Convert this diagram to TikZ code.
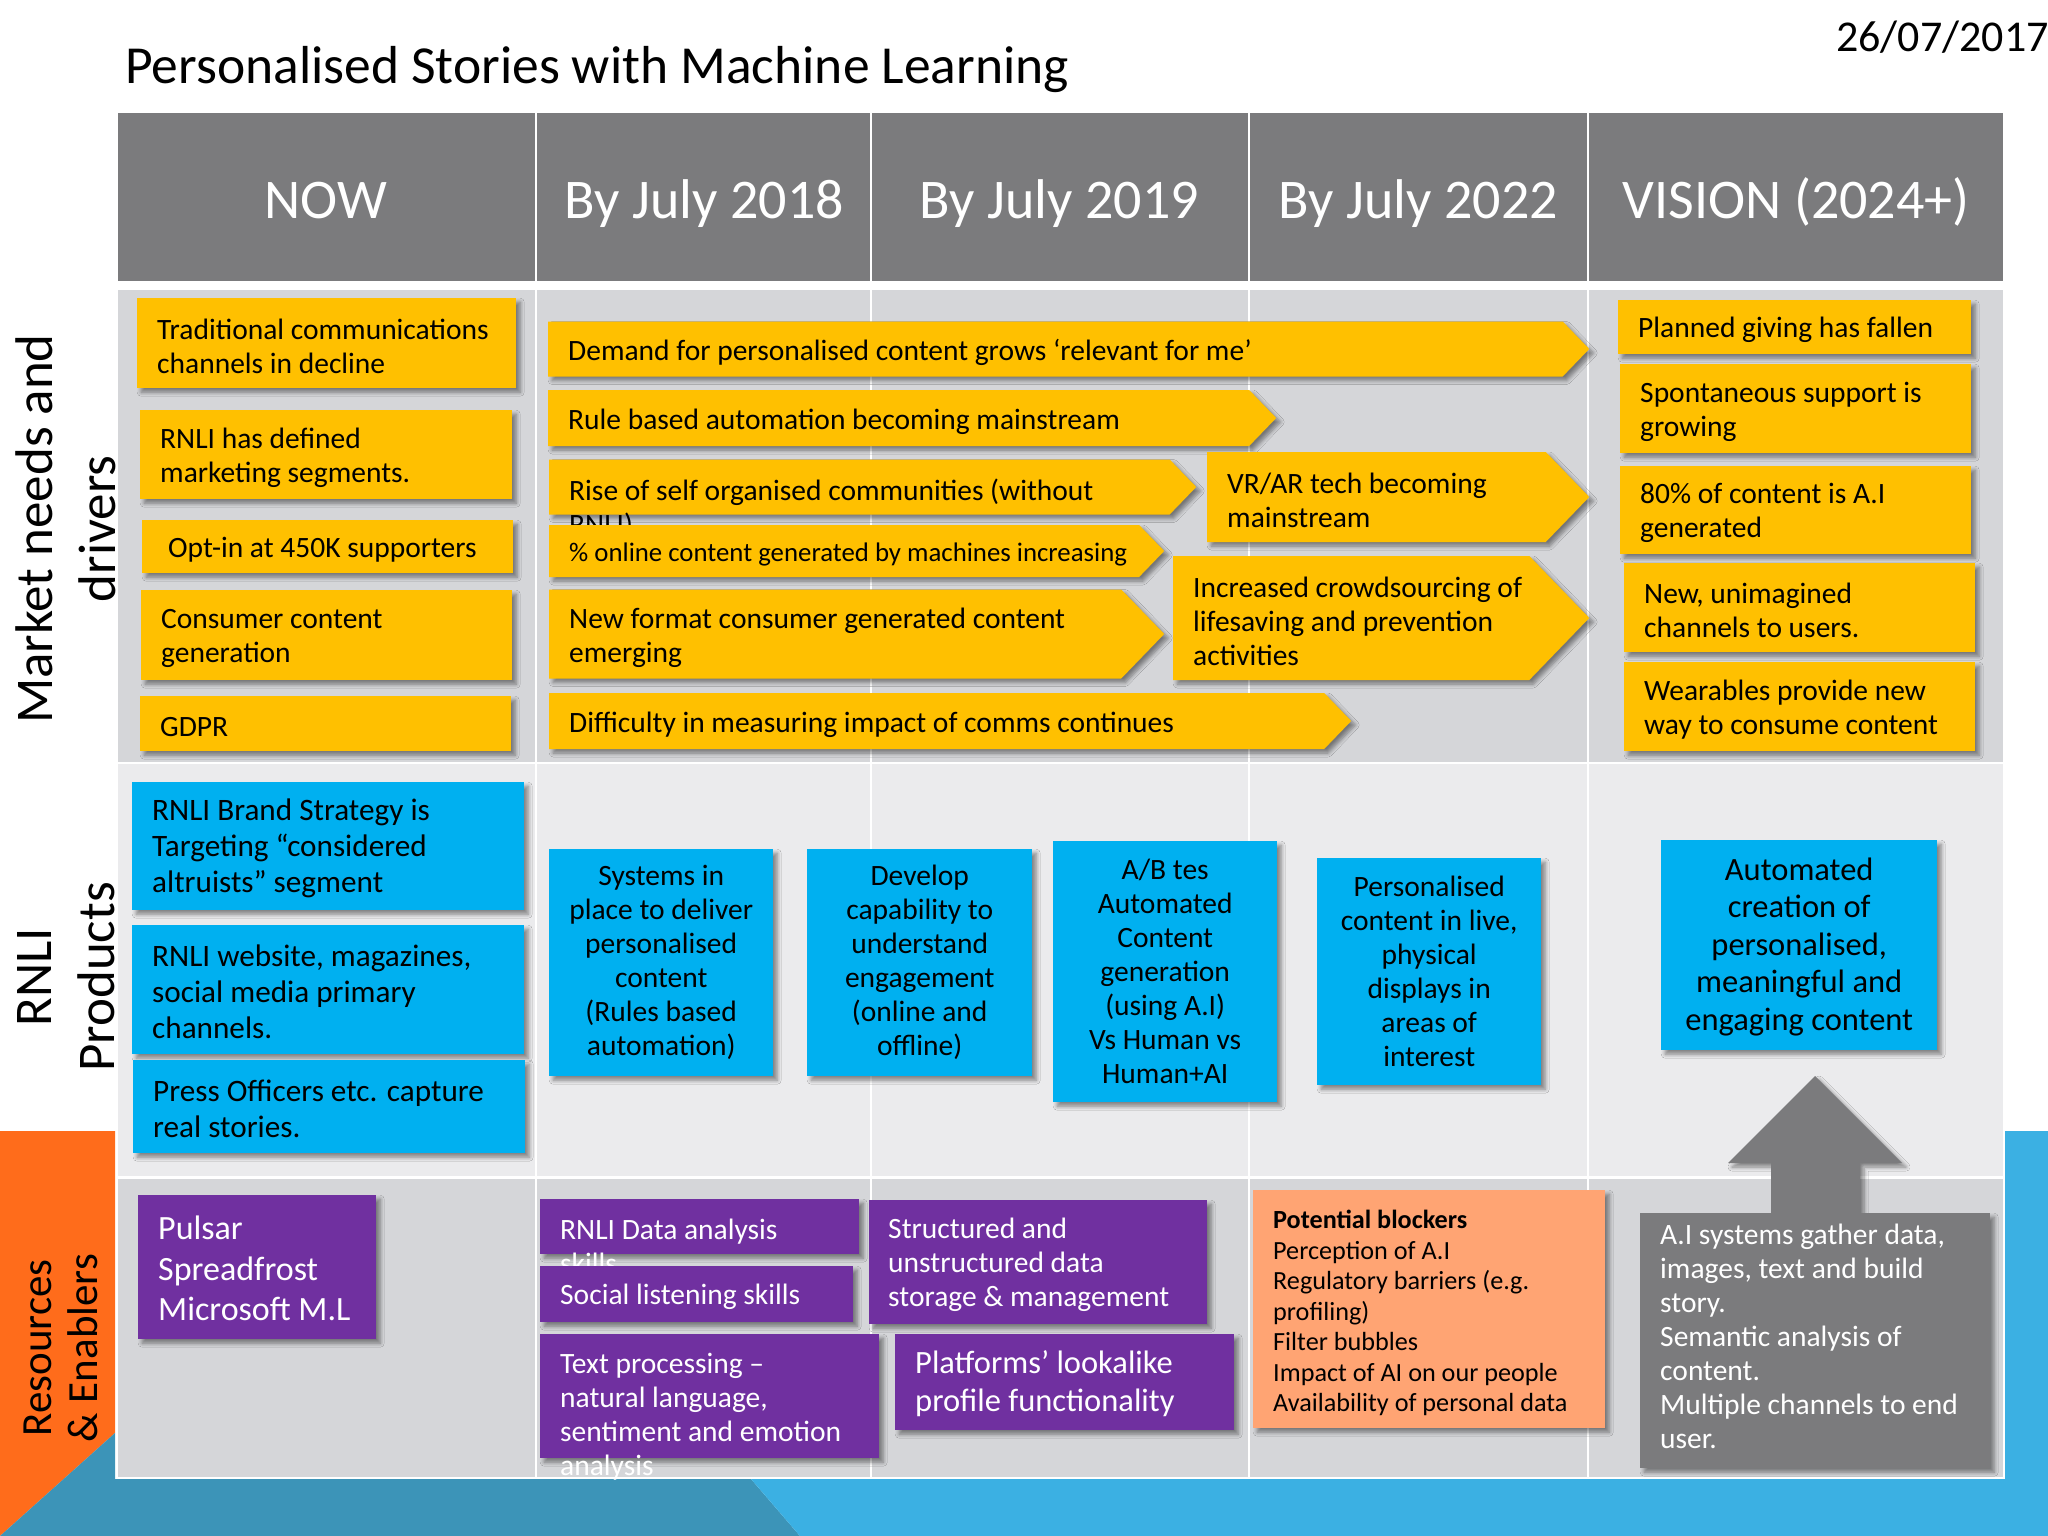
\documentclass[tikz,border=0pt]{standalone}
\usepackage{fontspec}
\setmainfont{Carlito}
\usetikzlibrary{shapes.symbols,shadows.blur}
\definecolor{hdrgrey}{HTML}{7B7B7D}
\definecolor{rowdark}{HTML}{D5D6D9}
\definecolor{rowlight}{HTML}{EBEBED}
\definecolor{ygold}{HTML}{FFC000}
\definecolor{bsky}{HTML}{00B0F0}
\definecolor{pviolet}{HTML}{7030A0}
\definecolor{opeach}{HTML}{FFA473}
\definecolor{bgorange}{HTML}{FF6C1B}
\definecolor{bgteal}{HTML}{3C94B8}
\definecolor{bgblue}{HTML}{3BB0E3}
\tikzset{
  boxshadow/.style={blur shadow={shadow xshift=4pt,shadow yshift=-4pt,shadow blur radius=4pt,shadow blur steps=6,shadow opacity=45}},
  txt/.style={font=\fontsize{29.5}{34}\selectfont,align=flush left,inner sep=0pt},
  midtxt/.style={font=\fontsize{31.2}{36}\selectfont},
  bigtxt/.style={font=\fontsize{32.5}{37.5}\selectfont},
  lowered/.style={execute at begin node={\rule{0pt}{26pt}}},
  block/.style={boxshadow,txt,anchor=north west,inner xsep=20pt,inner ysep=0pt},
  yrect/.style={block,lowered,fill=ygold},
  brect/.style={block,lowered,fill=bsky},
  bcent/.style={block,fill=bsky,align=flush center},
  prect/.style={block,lowered,fill=pviolet,text=white},
  yarrow/.style={boxshadow,fill=ygold,signal,signal to=east,signal pointer angle=92,inner sep=0pt,anchor=west},
  arrowtxt/.style={txt,anchor=west,yshift=-3.5pt},
  hdr/.style={font=\fontsize{56}{60}\selectfont,text=white,inner sep=0pt,anchor=base},
  rowlab/.style={rotate=90,align=center,inner sep=0pt}
}
\begin{document}
\begin{tikzpicture}[x=1pt,y=-1pt]
\useasboundingbox (0,0) rectangle (2048,1536);
% page background
\fill[bgorange] (0,1131) -- (115,1131) -- (115,1433) -- (0,1536) -- cycle;
\fill[bgteal] (115,1433) -- (115,1479) -- (751,1479) -- (800,1536) -- (0,1536) -- cycle;
\fill[bgblue] (751,1479) -- (2005,1479) -- (2005,1131) -- (2048,1131) -- (2048,1536) -- (800,1536) -- cycle;

\node[font=\fontsize{53.5}{60}\selectfont,anchor=base west,inner sep=0pt] (title) at (125,84) {Personalised Stories with Machine Learning};
\node[font=\fontsize{44}{50}\selectfont,anchor=base west,inner sep=0pt] (date) at (1836,52) {26/07/2017};

% table
\fill[white] (116,110) rectangle (2005,1479);
\fill[hdrgrey] (118,113) rectangle (2003,281);
\fill[rowdark] (118,290) rectangle (2003,762);
\fill[rowlight] (118,764) rectangle (2003,1176);
\fill[rowdark] (118,1179) rectangle (2003,1477);
\foreach \x in {536,871,1249,1588}
  \draw[white,line width=2.5pt] (\x,113) -- (\x,1477);

\node[hdr] (now) at (326,218) {NOW};
\node[hdr] (y18) at (704,218) {By July 2018};
\node[hdr] (y19) at (1059,218) {By July 2019};
\node[hdr] (y22) at (1418,218) {By July 2022};
\node[hdr] (vis) at (1796,218) {VISION (2024+)};

% row labels
\node[rowlab,font=\fontsize{53}{63}\selectfont] (needs) at (66,529) {Market needs and\\drivers};
\node[rowlab,font=\fontsize{53}{63}\selectfont] (prods) at (66,977) {RNLI\\Products};
\node[rowlab,font=\fontsize{43}{46}\selectfont] (res) at (61,1348) {Resources\\\& Enablers};

% market needs, left column
\node[yrect,minimum width=379,minimum height=90,text width=339] (trad) at (137,298) {Traditional communications\\channels in decline};
\node[yrect,minimum width=372,minimum height=89,text width=332] (seg) at (140,410) {RNLI has defined\\marketing segments.};
\node[yrect,minimum width=371,minimum height=53,inner xsep=26pt,text width=319] (optin) at (142,520) {Opt-in at 450K supporters};
\node[yrect,minimum width=371,minimum height=90,text width=331] (cons) at (141,590) {Consumer content\\generation};
\node[yrect,minimum width=371,minimum height=55,text width=331] (gdpr) at (140,696) {GDPR};

% market needs, arrows
\node[yarrow,minimum width=1041,minimum height=55] (demand) at (548,349) {};
\node[arrowtxt] (demandt) at ([xshift=20pt]demand.west) {Demand for personalised content grows ‘relevant for me’};
\node[yarrow,minimum width=728,minimum height=56] (rule) at (548,418) {};
\node[arrowtxt] (rulet) at ([xshift=20pt]rule.west) {Rule based automation becoming mainstream};
\node[yarrow,minimum width=647,minimum height=55] (rise) at (549,487) {};
\node[txt,anchor=north west] (riset) at ([xshift=20pt,yshift=-19pt]rise.north west) {Rise of self organised communities (without\\RNLI)};
\node[yarrow,minimum width=615,minimum height=52] (online) at (549,551) {};
\node[arrowtxt,font=\fontsize{26.8}{30}\selectfont] (onlinet) at ([xshift=20pt]online.west) {\% online content generated by machines increasing};
\node[yarrow,minimum width=615,minimum height=89] (newf) at (549,634) {};
\node[arrowtxt] (newft) at ([xshift=20pt]newf.west) {New format consumer generated content\\emerging};
\node[yarrow,minimum width=802,minimum height=56] (diff) at (549,721) {};
\node[arrowtxt] (difft) at ([xshift=20pt]diff.west) {Difficulty in measuring impact of comms continues};
\node[yarrow,minimum width=382,minimum height=90] (vr) at (1207,497) {};
\node[arrowtxt] (vrt) at ([xshift=20pt]vr.west) {VR/AR tech becoming\\mainstream};
\node[yarrow,minimum width=416,minimum height=124] (crowd) at (1173,618) {};
\node[arrowtxt] (crowdt) at ([xshift=20pt]crowd.west) {Increased crowdsourcing of\\lifesaving and prevention\\activities};

% market needs, right column
\node[yrect,minimum width=353,minimum height=54,text width=313] (plan) at (1618,300) {Planned giving has fallen};
\node[yrect,minimum width=351,minimum height=89,text width=311] (spont) at (1620,364) {Spontaneous support is\\growing};
\node[yrect,minimum width=351,minimum height=88,text width=311] (ai80) at (1620,466) {80\% of content is A.I\\generated};
\node[yrect,minimum width=351,minimum height=89,text width=311] (unim) at (1624,563) {New, unimagined\\channels to users.};
\node[yrect,minimum width=351,minimum height=89,text width=311] (wear) at (1624,662) {Wearables provide new\\way to consume content};

% products
\node[brect,midtxt,minimum width=392,minimum height=128,text width=352] (brand) at (132,782) {RNLI Brand Strategy is\\Targeting “considered\\altruists” segment};
\node[brect,midtxt,minimum width=392,minimum height=129,text width=352] (web) at (132,925) {RNLI website, magazines,\\social media primary\\channels.};
\node[brect,midtxt,minimum width=392,minimum height=93,text width=352] (press) at (133,1060) {Press Officers etc. capture\\real stories.};
\node[bcent,minimum width=224,minimum height=227,text width=210,inner xsep=7pt] (sys) at (549,849) {Systems in\\place to deliver\\personalised\\content\\(Rules based\\automation)};
\node[bcent,minimum width=225,minimum height=227,text width=210,inner xsep=7pt] (dev) at (807,849) {Develop\\capability to\\understand\\engagement\\(online and\\offline)};
\node[bcent,minimum width=224,minimum height=261,text width=210,inner xsep=7pt] (abt) at (1053,841) {A/B tes\\Automated\\Content\\generation\\(using A.I)\\Vs Human vs\\Human+AI};
\node[bcent,minimum width=224,minimum height=227,text width=210,inner xsep=7pt] (live) at (1317,858) {Personalised\\content in live,\\physical\\displays in\\areas of\\interest};
\node[bcent,lowered,bigtxt,minimum width=276,minimum height=210,text width=262,inner xsep=7pt] (auto) at (1661,840) {Automated\\creation of\\personalised,\\meaningful and\\engaging content};

% resources
\node[prect,font=\fontsize{34}{40.5}\selectfont,minimum width=238,minimum height=144,text width=198] (tools) at (138,1195) {Pulsar\\Spreadfrost\\Microsoft M.L};
\node[prect,minimum width=319,minimum height=55] (rnlibox) at (540,1199) {};
\node[txt,anchor=north west,text=white] (rnlit) at (560,1219) {RNLI Data analysis\\skills};
\node[prect,minimum width=313,minimum height=56,text width=273] (social) at (540,1266) {Social listening skills};
\node[prect,minimum width=339,minimum height=124] (procbox) at (540,1334) {};
\node[txt,anchor=north west,text=white] (proct) at (560,1353) {Text processing –\\natural language,\\sentiment and emotion\\analysis};
\node[prect,minimum width=338,minimum height=124,text width=300,inner xsep=19pt] (store) at (869,1200) {Structured and\\unstructured data\\storage \& management};
\node[prect,bigtxt,minimum width=339,minimum height=96,text width=299] (plat) at (895,1334) {Platforms’ lookalike\\profile functionality};
\node[block,lowered,fill=opeach,font=\fontsize{26.2}{30.5}\selectfont,minimum width=352,minimum height=238,text width=312] (block) at (1253,1190) {\textbf{Potential blockers}\\Perception of A.I\\Regulatory barriers (e.g.\\profiling)\\Filter bubbles\\Impact of AI on our people\\Availability of personal data};
\fill[hdrgrey,boxshadow] (1815,1076) -- (1902,1163) -- (1860,1163) -- (1860,1213) -- (1771,1213) -- (1771,1163) -- (1728,1163) -- cycle;
\node[block,fill=hdrgrey,text=white,minimum width=350,minimum height=255,text width=310] (sysbox) at (1640,1213) {A.I systems gather data,\\images, text and build\\story.\\Semantic analysis of\\content.\\Multiple channels to end\\user.\rule[-8pt]{0pt}{8pt}};
\end{tikzpicture}
\end{document}
